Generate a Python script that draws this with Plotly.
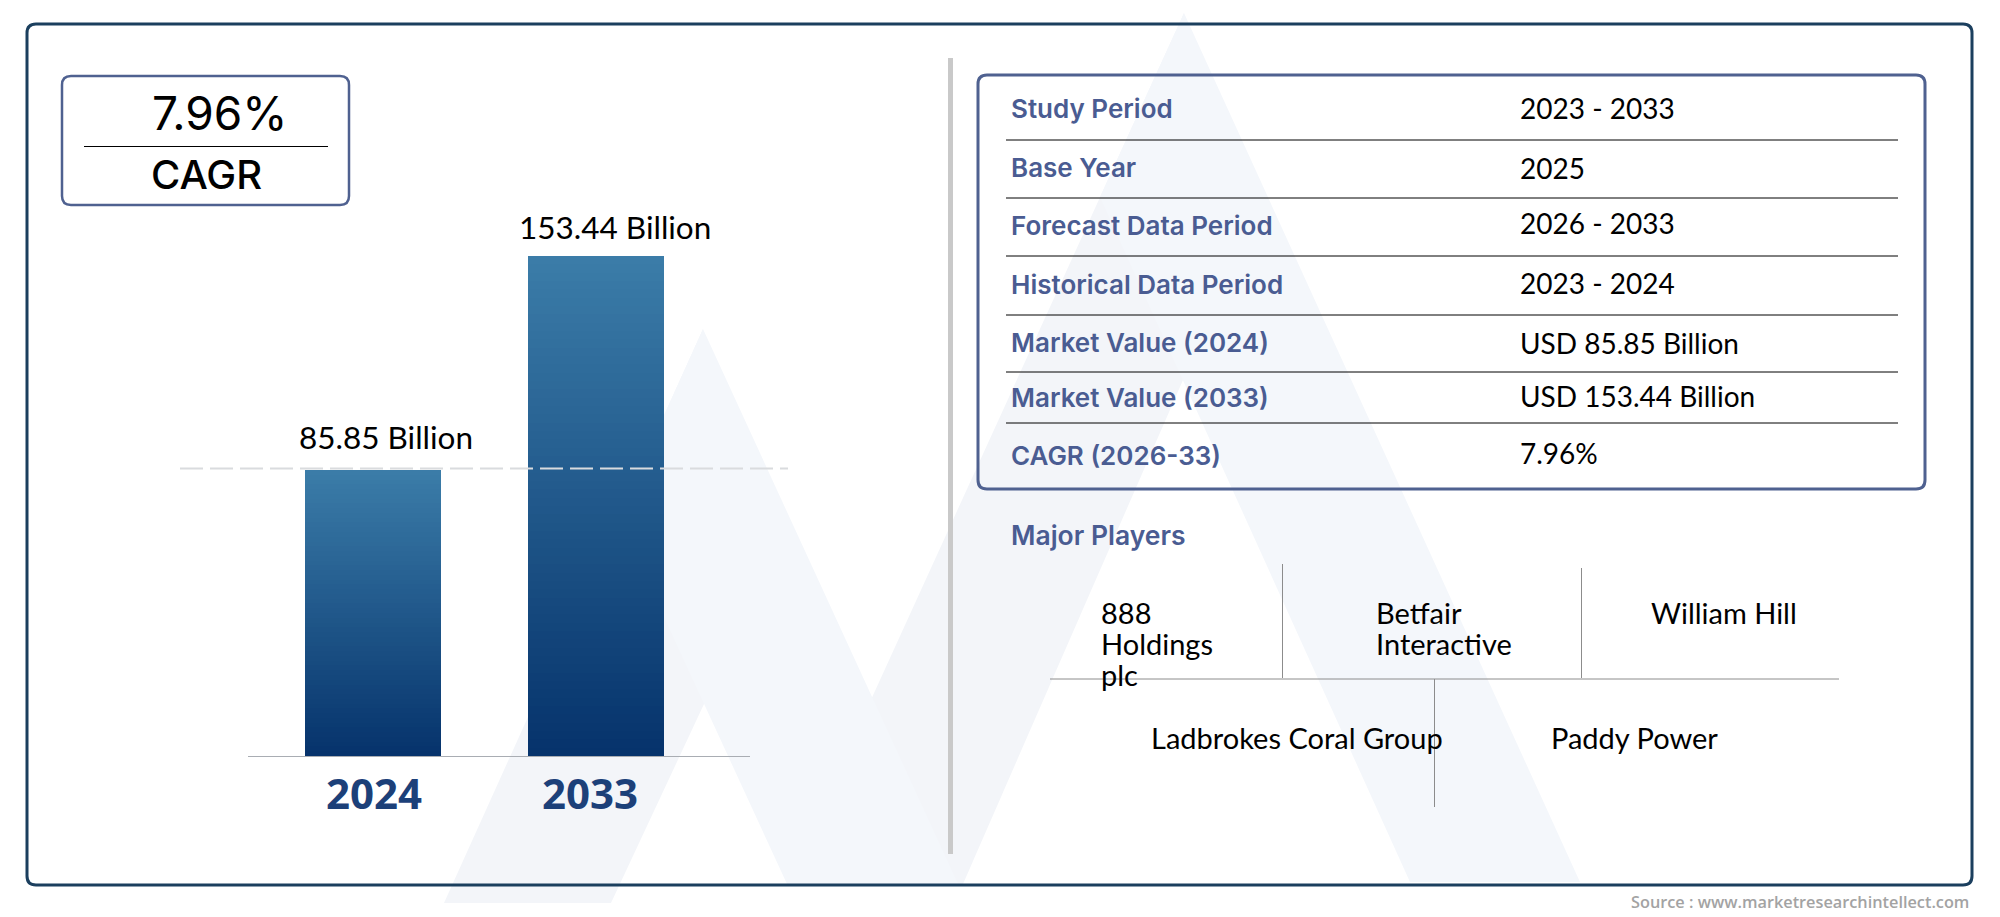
import plotly.graph_objects as go

W, H = 2000, 917

years = ['2024', '2033']
market_values = [85.85, 153.44]

row_labels = ['Study Period', 'Base Year', 'Forecast Data Period', 'Historical Data Period',
              'Market Value (2024)', 'Market Value (2033)', 'CAGR (2026-33)']
row_values = ['2023 - 2033', '2025', '2026 - 2033', '2023 - 2024',
              'USD 85.85 Billion', 'USD 153.44 Billion', '7.96%']
players = [['888', 'Holdings', 'plc'], ['Betfair', 'Interactive'], ['William Hill'],
           ['Ladbrokes Coral Group'], ['Paddy Power']]
cagr_text = '7.96%'

# layout in picture pixels
label_y = [108, 168, 226, 284, 342, 398, 455]
value_y = [108, 168, 223, 283, 343, 396, 453]
rule_y = [140, 198, 256, 315, 372, 423]
player_pos = [(1101, 612.5), (1376, 612.5), (1651, 612.5), (1151, 737.5), (1551, 737.5)]

BODY_FONT = 'Lato'
HEAD_FONT = 'Inter'
NAVY = '#4a5c92'
MARK_GREY = '#f3f5f9'
MARK_BLUE = '#f4f7fb'

# the drawn bars are not quite proportional from zero, the baseline sits a bit under it
axis_floor = -4.48
LAYERS = 60
TOP_RGB = (59, 124, 168)
BOTTOM_RGB = (5, 50, 107)


def px(x):
    return x / W


def py(y):
    return 1 - y / H


def poly(points):
    return 'M' + ' L'.join(f'{px(x)},{py(y)}' for x, y in points) + ' Z'


def round_rect(x0, y0, x1, y1, r):
    p = lambda x, y: f'{px(x)},{py(y)}'
    return (f'M{p(x0 + r, y0)} L{p(x1 - r, y0)} Q{p(x1, y0)} {p(x1, y0 + r)} '
            f'L{p(x1, y1 - r)} Q{p(x1, y1)} {p(x1 - r, y1)} '
            f'L{p(x0 + r, y1)} Q{p(x0, y1)} {p(x0, y1 - r)} '
            f'L{p(x0, y0 + r)} Q{p(x0, y0)} {p(x0 + r, y0)} Z')


def mark(points, color):
    return dict(type='path', xref='paper', yref='paper', layer='below', line=dict(width=0),
                fillcolor=color, path=poly(points))


def hline(x0, x1, y, color, width, dash=None):
    return dict(type='line', xref='paper', yref='paper', x0=px(x0), x1=px(x1), y0=py(y), y1=py(y),
                line=dict(color=color, width=width, dash=dash))


def vline(x, y0, y1, color, width):
    return dict(type='line', xref='paper', yref='paper', x0=px(x), x1=px(x), y0=py(y0), y1=py(y1),
                line=dict(color=color, width=width))


def label(x, y, text, size, family=BODY_FONT, color='#000000', weight=400, anchor='left'):
    # annotations carry a little padding on the left
    shift = -2.5 if anchor == 'left' else 0
    return dict(xref='paper', yref='paper', x=px(x + shift), y=py(y), text=text, showarrow=False,
                xanchor=anchor, yanchor='middle',
                font=dict(family=family, size=size, color=color, weight=weight))


fig = go.Figure()

# gradient bars: tall light layer first, shorter darker ones on top
for k in range(LAYERS):
    t = k / LAYERS
    rgb = [round(a + (b - a) * t) for a, b in zip(TOP_RGB, BOTTOM_RGB)]
    fig.add_trace(go.Bar(
        x=years,
        y=[(v - axis_floor) * (1 - t) for v in market_values],
        base=axis_floor,
        width=0.61,
        marker=dict(color=f'rgb({rgb[0]},{rgb[1]},{rgb[2]})', line=dict(width=0)),
        showlegend=False,
        hoverinfo='skip',
    ))

shapes = [
    # watermark, legs going down-left sit under the ones going down-right
    mark([(1184, 13), (787, 884), (963, 884), (1183, 380)], MARK_GREY),
    mark([(703, 329), (444, 903), (611, 903), (704, 704)], MARK_GREY),
    mark([(703, 329), (958, 884), (787, 884), (618, 517)], MARK_BLUE),
    mark([(1184, 13), (1580, 882), (1410, 882), (1100, 197)], MARK_BLUE),
    # frames
    dict(type='path', xref='paper', yref='paper', path=round_rect(27, 24, 1972, 885, 9),
         line=dict(color='#1b3f5e', width=3)),
    dict(type='path', xref='paper', yref='paper', path=round_rect(62, 76, 349, 205, 9),
         line=dict(color='#4f6190', width=2.5)),
    dict(type='path', xref='paper', yref='paper', path=round_rect(978, 75, 1925, 489, 9),
         line=dict(color='#4f6190', width=3)),
    hline(84, 328, 146.5, '#000000', 1),
    vline(950.5, 58, 854, '#c9c9c9', 5),
    hline(180, 788, 468.5, '#d9dbde', 2, '23px,7px'),
    # major players grid
    vline(1282.5, 564, 678, '#8c8c8c', 1),
    vline(1581.5, 568, 678, '#8c8c8c', 1),
    hline(1050, 1839, 679, '#8c8c8c', 1),
    vline(1434.5, 679, 807, '#8c8c8c', 1),
]
shapes += [hline(1006, 1898, y, '#000000', 1) for y in rule_y]

annotations = [
    label(219.5, 113, cagr_text, 46, HEAD_FONT, weight=400, anchor='center'),
    label(206, 174, 'CAGR', 40, HEAD_FONT, weight=500, anchor='center'),
    label(1011, 535, 'Major Players', 26.5, HEAD_FONT, NAVY, 600),
    label(1971, 902, 'Source : www.marketresearchintellect.com', 16.3, 'Open Sans', '#a3a3a3', 600, 'right'),
]
for text, y in zip(row_labels, label_y):
    annotations.append(label(1011.5, y, text, 26, HEAD_FONT, NAVY, 600))
for text, y in zip(row_values, value_y):
    annotations.append(label(1520, y, text, 28))
for lines, (x, y) in zip(players, player_pos):
    for i, line in enumerate(lines):
        annotations.append(label(x, y + i * 31, line, 29))

# value labels and year labels hang off the bars themselves
value_shift = [(13.5, 33), (19, 29)]
year_shift = [1, -6]
for i, (year, v) in enumerate(zip(years, market_values)):
    dx, dy = value_shift[i]
    annotations.append(dict(xref='x', yref='y', x=i, y=v, text=f'{v} Billion', showarrow=False,
                            xanchor='center', yanchor='middle', xshift=dx, yshift=dy,
                            font=dict(family=BODY_FONT, size=31.5, color='#000000')))
    annotations.append(dict(xref='x', yref='y', x=i, y=axis_floor, text=year, showarrow=False,
                            xanchor='center', yanchor='middle', xshift=year_shift[i], yshift=-36,
                            font=dict(family='Open Sans', size=42, color='#1c4079', weight=700)))

fig.update_layout(
    width=W,
    height=H,
    margin=dict(l=0, r=0, t=0, b=0),
    paper_bgcolor='#ffffff',
    plot_bgcolor='rgba(0,0,0,0)',
    barmode='overlay',
    bargap=0,
    xaxis=dict(domain=[px(248), px(750)], type='category', range=[-0.56, 1.69], showgrid=False,
               showline=True, linecolor='#a9adb3', linewidth=1, zeroline=False,
               showticklabels=False, ticks='', fixedrange=True),
    yaxis=dict(domain=[py(756), py(256)], range=[axis_floor, max(market_values)], visible=False,
               showgrid=False, zeroline=False, fixedrange=True),
    shapes=shapes,
    annotations=annotations,
)

fig.write_html('out.html', config={'displayModeBar': False},
               post_script="document.body.style.margin='0';document.body.style.overflow='hidden';")
